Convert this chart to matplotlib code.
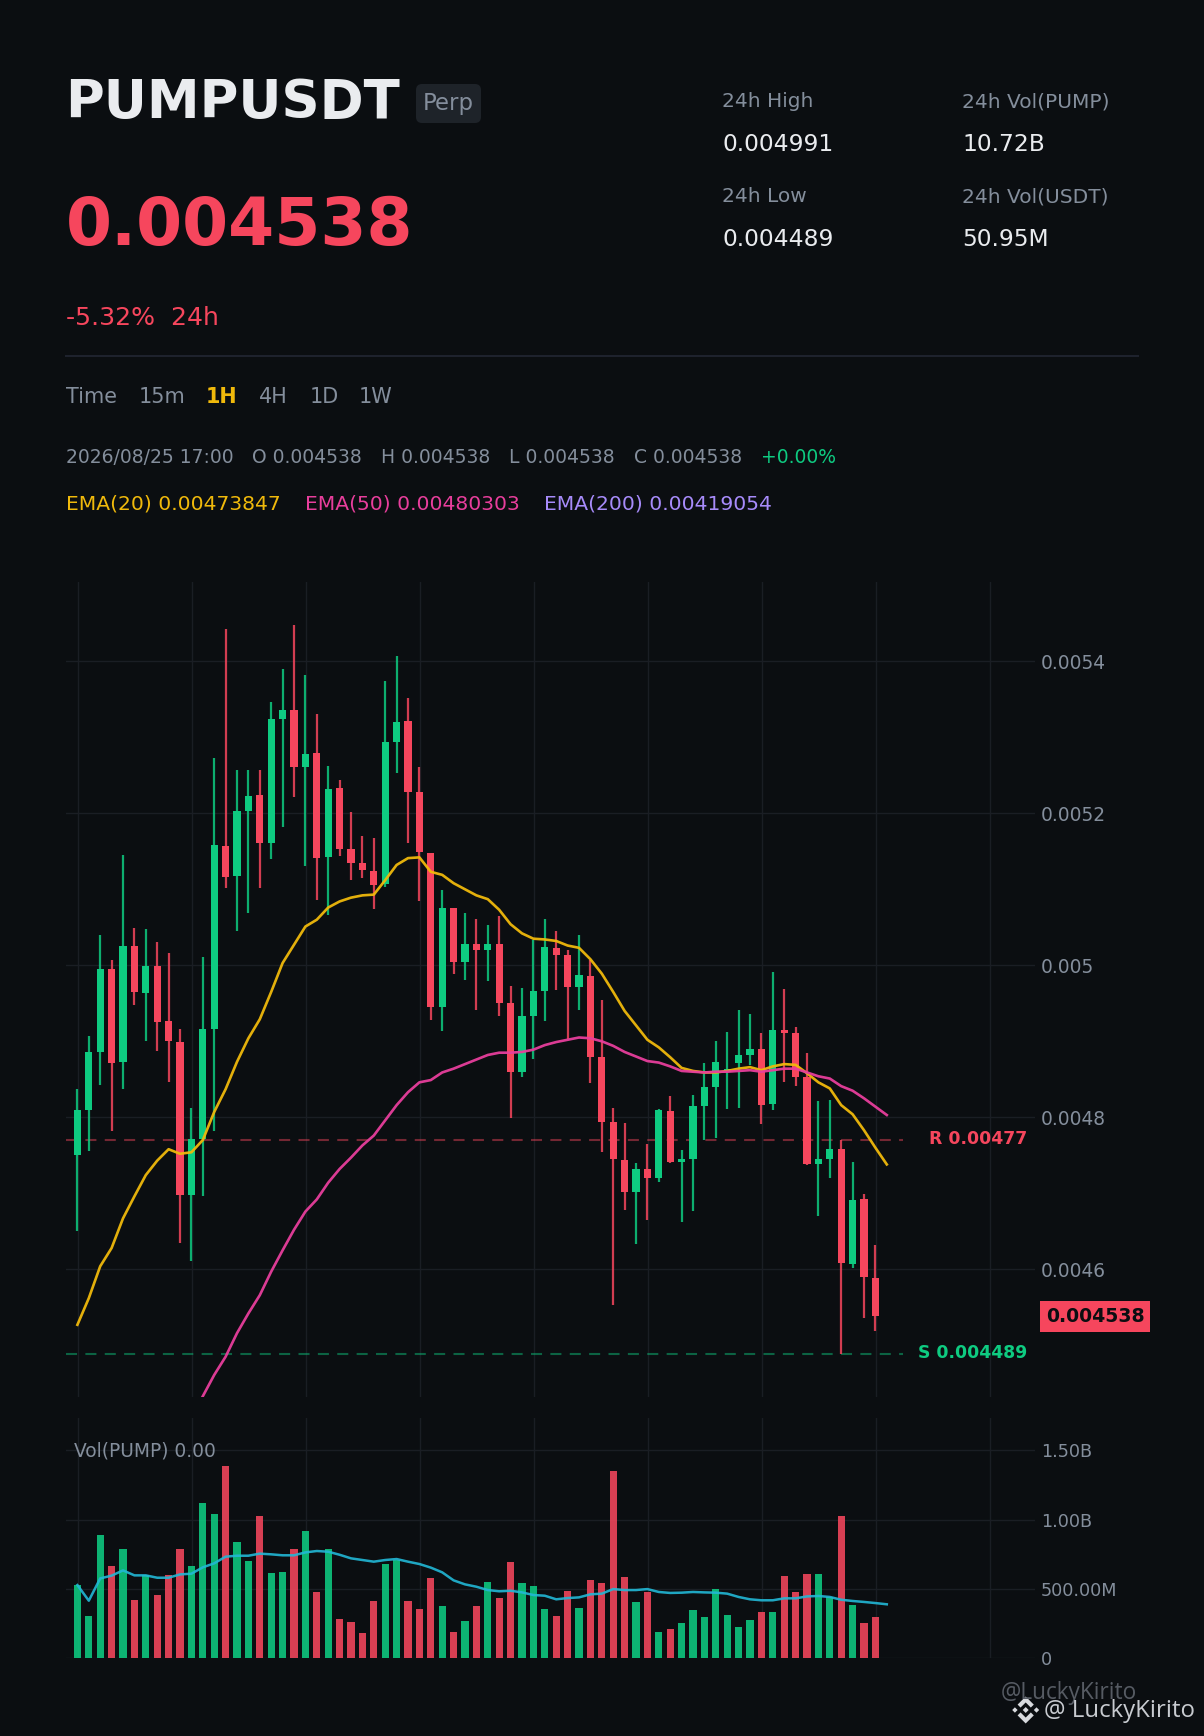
import numpy as np
import matplotlib
matplotlib.use("Agg")
import matplotlib.pyplot as plt
from matplotlib.patches import FancyBboxPatch, Polygon

# prices are in millionths of USDT, scaled below
opens = [4750, 4810, 4886, 4995, 4873, 5025, 4964, 4999, 4927, 4899, 4698, 4772,
         4916, 5157, 5117, 5203, 5224, 5161, 5324, 5336, 5261, 5279, 5143, 5233,
         5153, 5135, 5124, 5107, 5294, 5321, 5228, 5148, 4945, 5075, 5004, 5028,
         5020, 5028, 4950, 4860, 4933, 4966, 5023, 5014, 4971, 4986, 4879, 4794,
         4744, 4702, 4732, 4720, 4808, 4741, 4745, 4815, 4840, 4859, 4871, 4882,
         4890, 4817, 4915, 4911, 4853, 4739, 4745, 4758, 4607, 4693, 4589, 4538]
closes = [4810, 4886, 4995, 4872, 5025, 4965, 4999, 4925, 4900, 4698, 4772, 4916,
          5158, 5116, 5203, 5223, 5161, 5324, 5336, 5261, 5278, 5141, 5232, 5153,
          5135, 5125, 5106, 5294, 5320, 5228, 5149, 4945, 5075, 5004, 5028, 5020,
          5028, 4950, 4860, 4933, 4966, 5024, 5014, 4971, 4987, 4879, 4794, 4745,
          4702, 4732, 4720, 4810, 4741, 4745, 4815, 4840, 4873, 4864, 4882, 4890,
          4816, 4915, 4911, 4853, 4739, 4745, 4758, 4608, 4691, 4590, 4538, 4538]
highs = [4837, 4907, 5040, 5007, 5145, 5049, 5048, 5031, 5016, 4916, 4812, 5011,
         5273, 5442, 5257, 5257, 5257, 5346, 5390, 5448, 5382, 5331, 5262, 5244,
         5202, 5170, 5167, 5374, 5407, 5352, 5261, 5148, 5099, 5075, 5069, 5061,
         5053, 5065, 4973, 4970, 5033, 5061, 5045, 5020, 5040, 5007, 4954, 4812,
         4793, 4740, 4765, 4811, 4828, 4757, 4829, 4871, 4900, 4912, 4941, 4936,
         4911, 4991, 4969, 4919, 4885, 4821, 4823, 4770, 4741, 4699, 4632, 4538]
lows = [4650, 4756, 4843, 4782, 4837, 4948, 4900, 4887, 4846, 4635, 4611, 4696,
        4782, 5102, 5045, 5069, 5102, 5140, 5182, 5221, 5131, 5086, 5066, 5144,
        5112, 5115, 5074, 5103, 5253, 5161, 5085, 4928, 4914, 4989, 4981, 4941,
        4979, 4933, 4799, 4853, 4877, 4927, 4968, 4903, 4941, 4845, 4754, 4553,
        4678, 4633, 4665, 4715, 4740, 4662, 4677, 4770, 4773, 4811, 4812, 4869,
        4791, 4810, 4846, 4841, 4737, 4670, 4720, 4489, 4602, 4536, 4519, 4538]
ema20 = [4527, 4562, 4604, 4628, 4667, 4696, 4724, 4743, 4758, 4752, 4754, 4770,
         4807, 4837, 4873, 4904, 4929, 4965, 5003, 5027, 5051, 5060, 5076, 5084,
         5089, 5092, 5093, 5112, 5132, 5141, 5142, 5123, 5119, 5108, 5100, 5092,
         5087, 5073, 5054, 5042, 5035, 5034, 5032, 5026, 5023, 5008, 4989, 4965,
         4940, 4921, 4902, 4892, 4879, 4865, 4861, 4859, 4859, 4861, 4864, 4866,
         4862, 4867, 4870, 4869, 4858, 4846, 4838, 4816, 4804, 4783, 4760, 4738]
# ema50 runs below the pane before candle 10
ema50 = [np.nan] * 10 + [4405, 4433, 4461, 4485, 4516, 4542, 4566, 4597, 4625, 4652,
         4676, 4692, 4714, 4732, 4747, 4763, 4776, 4796, 4816, 4833, 4846, 4849,
         4859, 4864, 4870, 4876, 4882, 4885, 4885, 4886, 4889, 4895, 4899, 4902,
         4905, 4904, 4900, 4894, 4886, 4880, 4874, 4872, 4867, 4861, 4860, 4859,
         4860, 4860, 4861, 4862, 4860, 4862, 4864, 4864, 4859, 4854, 4851, 4841,
         4835, 4825, 4814, 4803]
# volume in millions of PUMP
volumes = [527, 303, 889, 665, 787, 419, 600, 455, 600, 787, 665, 1120,
           1040, 1387, 838, 701, 1026, 614, 621, 787, 917, 477, 787, 282,
           260, 181, 412, 679, 708, 412, 354, 578, 376, 188, 267, 376,
           549, 433, 693, 542, 520, 354, 303, 484, 361, 563, 542, 1351,
           585, 404, 477, 188, 209, 253, 347, 296, 496, 311, 224, 275,
           332, 332, 592, 477, 607, 607, 441, 1026, 383, 253, 296, 0]
vol_ma = [527, 414, 575, 595, 633, 597, 597, 580, 580, 604, 609, 655,
          684, 732, 739, 739, 754, 749, 742, 742, 763, 773, 768, 746,
          720, 708, 696, 708, 715, 696, 679, 653, 619, 561, 532, 515,
          491, 482, 486, 474, 455, 450, 424, 433, 438, 460, 465, 498,
          491, 491, 498, 477, 470, 472, 477, 474, 472, 465, 441, 424,
          417, 417, 431, 431, 445, 448, 441, 421, 412, 405, 397, 388]
resistance = 0.00477
support = 0.004489
last_price = 0.004538
price_ticks = [0.0046, 0.0048, 0.005, 0.0052, 0.0054]
price_tick_labels = ["0.0046", "0.0048", "0.005", "0.0052", "0.0054"]
vol_ticks = [0, 500, 1000, 1500]
vol_tick_labels = ["0", "500.00M", "1.00B", "1.50B"]
timeframes = ["Time", "15m", "1H", "4H", "1D", "1W"]

BG = "#0b0e11"
GREY = "#848e9c"
GREEN = "#0ecb81"
RED = "#f6465d"
GOLD = "#f0b90b"
PINK = "#e83e9c"
PURPLE = "#a78bfa"
GRID = "#1a1e24"
W, H = 1204, 1736

plt.rcParams["font.family"] = "DejaVu Sans"
fig = plt.figure(figsize=(W / 100, H / 100), dpi=100, facecolor=BG)


def put(x, y, s, px, color=GREY, weight="normal", **kw):
    # x, y in reference pixels, y is the text baseline
    return fig.text(x / W, 1 - y / H, s, fontsize=px * 0.72, color=color,
                    fontweight=weight, va="baseline", **kw)


def pane(top, bottom):
    left, right = 66, 1035
    return fig.add_axes([left / W, 1 - bottom / H, (right - left) / W, (bottom - top) / H],
                        facecolor=BG)


x = np.arange(len(opens))
o = np.array(opens) * 1e-6
c = np.array(closes) * 1e-6
h = np.array(highs) * 1e-6
l = np.array(lows) * 1e-6
colors = [GREEN if cl >= op else RED for op, cl in zip(opens, closes)]

ax = pane(582, 1397)
ax.set_xlim(-1, 84)
ax.set_ylim(0.004432, 0.0055043)
ax.vlines(x, l, h, colors=colors, linewidth=1.6, alpha=0.85, zorder=2)
ax.bar(x, np.abs(c - o), bottom=np.minimum(o, c), width=0.62, color=colors, linewidth=0, zorder=3)
ax.plot(x, np.array(ema20) * 1e-6, color=GOLD, lw=1.9, alpha=0.95, zorder=4)
ax.plot(x, np.array(ema50) * 1e-6, color=PINK, lw=1.9, alpha=0.95, zorder=5)
ax.plot([-1, 72.4], [resistance, resistance], color=RED, lw=1.5, alpha=0.45,
        linestyle=(0, (5.3, 4)), zorder=1)
ax.plot([-1, 72.4], [support, support], color=GREEN, lw=1.5, alpha=0.45,
        linestyle=(0, (5.3, 4)), zorder=1)
ax.annotate("R 0.00477", xy=(83.3, resistance), xytext=(0, 0.8), textcoords="offset points",
            ha="right", va="center", color=RED, fontsize=12.4, fontweight="bold")
ax.annotate("S 0.004489", xy=(83.3, support), xytext=(0, 0.8), textcoords="offset points",
            ha="right", va="center", color=GREEN, fontsize=12.4, fontweight="bold")
ax.text(89.3, last_price, "0.004538", ha="center", va="center", color=BG, fontsize=13.6,
        fontweight="bold", bbox=dict(boxstyle="square,pad=0.3", fc=RED, ec="none"), zorder=6)

vx = pane(1418, 1658)
vx.set_xlim(-1, 84)
vx.set_ylim(0, 1734)
vx.bar(x, volumes, width=0.62, color=colors, alpha=0.88, linewidth=0, zorder=2)
vx.plot(x, vol_ma, color="#22b8d6", lw=1.8, alpha=0.9, zorder=3)

for a, ticks, labels, size in [(ax, price_ticks, price_tick_labels, 13.4),
                               (vx, vol_ticks, vol_tick_labels, 12.7)]:
    a.set_xticks(np.arange(0, 90, 10) + 0.03)
    a.set_yticks(ticks)
    a.set_yticklabels(labels)
    a.yaxis.tick_right()
    a.tick_params(axis="y", length=0, pad=4.4, labelcolor=GREY, labelsize=size)
    a.tick_params(axis="x", length=0, labelbottom=False)
    a.grid(True, color=GRID, linewidth=1.0, zorder=0)
    a.set_axisbelow(True)
    for s in a.spines.values():
        s.set_visible(False)

# header
put(65.5, 118, "PUMPUSDT", 53, color="#eaecef", weight="bold")
fig.add_artist(FancyBboxPatch((416 / W, 1 - 123 / H), 65 / W, 39 / H, transform=fig.transFigure,
                              boxstyle="round,pad=0,rounding_size=0.005", mutation_aspect=W / H,
                              fc="#1e2329", ec="none"))
put(422.5, 110, "Perp", 22.8, color=GREY)
put(66, 245, "0.004538", 66.3, color=RED, weight="bold")
put(66, 325, "-5.32%  24h", 25.1, color=RED)

put(722, 107, "24h High", 20.2)
put(722, 151, "0.004991", 23.4, color="#eaecef")
put(722, 202.5, "24h Low", 20.2)
put(722, 246, "0.004489", 23.4, color="#eaecef")
put(962, 107, "24h Vol(PUMP)", 20.2)
put(962, 151, "10.72B", 23.4, color="#eaecef")
put(962, 202.5, "24h Vol(USDT)", 20.2)
put(962, 246, "50.95M", 23.4, color="#eaecef")

fig.add_artist(plt.Line2D([65 / W, 1139 / W], [1 - 356 / H] * 2, color="#232733", lw=1.2,
                          solid_capstyle="butt"))

for name, px_x in zip(timeframes, [66, 138.5, 206, 259, 310, 359]):
    if name == "1H":
        put(px_x, 403, name, 20.8, color=GOLD, weight="bold")
    else:
        put(px_x, 403, name, 20.8)

put(66.5, 463, "2026/08/25 17:00", 18.75)
put(252, 463, "O 0.004538", 18.75)
put(381, 463, "H 0.004538", 18.75)
put(509, 463, "L 0.004538", 18.75)
put(634, 463, "C 0.004538", 18.75)
put(761, 463, "+0.00%", 18.75, color=GREEN)
put(66.5, 510, "EMA(20) 0.00473847", 20.3, color=GOLD)
put(305, 510, "EMA(50) 0.00480303", 20.3, color=PINK)
put(544, 510, "EMA(200) 0.00419054", 20.3, color=PURPLE)
put(74, 1456.5, "Vol(PUMP) 0.00", 18.6)

# watermark
put(1001, 1699, "@LuckyKirito", 22.6, color="#565b63", family="Open Sans")
put(1044, 1717, "@ LuckyKirito", 24, color="#c8cbd0", family="Open Sans")
logo_x, logo_y, r = 1025.7, 1710, 13.5
shapes = [
    [(-1, 0), (-0.8, 0.2), (-0.6, 0), (-0.8, -0.2)],
    [(1, 0), (0.8, 0.2), (0.6, 0), (0.8, -0.2)],
    [(-0.22, 0), (0, 0.22), (0.22, 0), (0, -0.22)],
    [(0, 1), (0.6, 0.4), (0.38, 0.18), (0, 0.56), (-0.38, 0.18), (-0.6, 0.4)],
    [(0, -1), (0.6, -0.4), (0.38, -0.18), (0, -0.56), (-0.38, -0.18), (-0.6, -0.4)],
]
for shape in shapes:
    pts = [((logo_x + a * r) / W, 1 - (logo_y - b * r) / H) for a, b in shape]
    fig.add_artist(Polygon(pts, transform=fig.transFigure, fc="#d8dade", ec="none"))

fig.savefig("out.png", dpi=100, facecolor=BG)
